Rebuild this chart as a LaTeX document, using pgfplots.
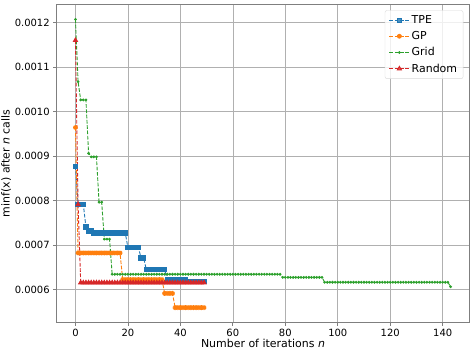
\documentclass[border=0pt]{standalone}
\usepackage{fontspec}
\setmainfont{DejaVu Sans}
\usepackage{pgfplots}
\pgfplotsset{compat=1.18}
\usetikzlibrary{plotmarks}
\definecolor{cTPE}{HTML}{1F77B4}
\definecolor{cGP}{HTML}{FF7F0E}
\definecolor{cGrid}{HTML}{2CA02C}
\definecolor{cRand}{HTML}{D62728}
\definecolor{gridc}{HTML}{B0B0B0}
\definecolor{framec}{HTML}{7F7F7F}
\begin{document}
\begin{tikzpicture}
\begin{axis}[
  name=ax, at={(0,0)}, anchor=south west,
  scale only axis, width=412.6bp, height=318bp,
  xmin=-7.15, xmax=150.15, ymin=0.000526, ymax=0.001241,
  xtick={0,20,...,140},
  ytick={0.0006,0.0007,0.0008,0.0009,0.0010,0.0011,0.0012},
  scaled y ticks=false,
  yticklabel style={/pgf/number format/.cd, fixed, fixed zerofill, precision=4, assume math mode=true},
  xticklabel style={/pgf/number format/assume math mode=true},
  ticklabel style={font=\fontsize{10}{12}\selectfont},
  label style={font=\fontsize{11}{13}\selectfont},
  xlabel={Number of iterations \textit{n}},
  ylabel={minf(x) after \textit{n} calls},
  xlabel style={yshift=5bp},
  ylabel style={yshift=-3bp},
  grid=major,
  major grid style={gridc, line width=0.6bp},
  axis line style={framec, line width=0.8bp},
  tick align=outside, major tick length=3.5bp,
  tick style={framec, line width=0.8bp},
  xtick pos=bottom, ytick pos=left,
  legend style={at={(1,1)}, anchor=north east, xshift=-6bp, yshift=-6bp,
    font=\fontsize{11}{13}\selectfont, draw=black!15, rounded corners=2bp,
    fill=white, fill opacity=0.8, text opacity=1, row sep=2.5bp,
    inner xsep=4bp, inner ysep=3bp},
  legend cell align=left,
  legend image code/.code={\draw[mark repeat=2,mark phase=2] plot coordinates {(0cm,0cm)(0.35cm,0cm)(0.7cm,0cm)};},
  every axis plot/.append style={line width=0.9bp, dash pattern=on 3.7bp off 1.6bp},
]
\addplot[cTPE, mark=square*, mark size=2.2bp, mark options={solid, fill=cTPE}] coordinates {
(0,0.000877)(1,0.000791)(2,0.000791)(3,0.000791)(4,0.000740)(5,0.000731)(6,0.000731)
(7,0.000727)(8,0.000727)(9,0.000727)(10,0.000727)(11,0.000727)(12,0.000727)(13,0.000727)
(14,0.000727)(15,0.000727)(16,0.000727)(17,0.000727)(18,0.000727)(19,0.000727)
(20,0.000694)(21,0.000694)(22,0.000694)(23,0.000694)(24,0.000694)
(25,0.000671)(26,0.000671)
(27,0.000645)(28,0.000645)(29,0.000645)(30,0.000645)(31,0.000645)(32,0.000645)(33,0.000645)(34,0.000645)
(35,0.000622)(36,0.000622)(37,0.000622)(38,0.000622)(39,0.000622)(40,0.000622)(41,0.000622)(42,0.000622)
(43,0.000618)(44,0.000618)(45,0.000618)(46,0.000618)(47,0.000618)(48,0.000618)(49,0.000618)
};
\addlegendentry{TPE}
\addplot[cGP, mark=10-pointed star, mark size=2.4bp, mark options={solid, fill=cGP}] coordinates {
(0,0.000964)(1,0.000682)(2,0.000682)(3,0.000682)(4,0.000682)(5,0.000682)(6,0.000682)(7,0.000682)
(8,0.000682)(9,0.000682)(10,0.000682)(11,0.000682)(12,0.000682)(13,0.000682)(14,0.000682)
(15,0.000682)(16,0.000682)(17,0.000682)
(18,0.000622)(19,0.000622)(20,0.000622)(21,0.000622)(22,0.000622)(23,0.000622)(24,0.000622)
(25,0.000622)(26,0.000622)(27,0.000622)(28,0.000622)(29,0.000622)(30,0.000622)(31,0.000622)
(32,0.000622)(33,0.000622)
(34,0.000591)(35,0.000591)(36,0.000591)(37,0.000591)
(38,0.000559)(39,0.000559)(40,0.000559)(41,0.000559)(42,0.000559)(43,0.000559)(44,0.000559)
(45,0.000559)(46,0.000559)(47,0.000559)(48,0.000559)(49,0.000559)
};
\addlegendentry{GP}
\addplot[cGrid, mark=*, mark size=0.9bp, mark options={solid, fill=cGrid}] coordinates {
(0,0.001207)(1,0.001067)(2,0.001026)(3,0.001026)(4,0.001026)(5,0.000906)(6,0.000898)(7,0.000898)
(8,0.000898)(9,0.000796)(10,0.000796)(11,0.000713)(12,0.000713)(13,0.000713)
(14,0.000634)(15,0.000634)(16,0.000634)(17,0.000634)(18,0.000634)(19,0.000634)(20,0.000634)
(21,0.000634)(22,0.000634)(23,0.000634)(24,0.000634)(25,0.000634)(26,0.000634)(27,0.000634)
(28,0.000634)(29,0.000634)(30,0.000634)(31,0.000634)(32,0.000634)(33,0.000634)(34,0.000634)
(35,0.000634)(36,0.000634)(37,0.000634)(38,0.000634)(39,0.000634)(40,0.000634)(41,0.000634)
(42,0.000634)(43,0.000634)(44,0.000634)(45,0.000634)(46,0.000634)(47,0.000634)(48,0.000634)
(49,0.000634)(50,0.000634)(51,0.000634)(52,0.000634)(53,0.000634)(54,0.000634)(55,0.000634)
(56,0.000634)(57,0.000634)(58,0.000634)(59,0.000634)(60,0.000634)(61,0.000634)(62,0.000634)
(63,0.000634)(64,0.000634)(65,0.000634)(66,0.000634)(67,0.000634)(68,0.000634)(69,0.000634)
(70,0.000634)(71,0.000634)(72,0.000634)(73,0.000634)(74,0.000634)(75,0.000634)(76,0.000634)
(77,0.000634)(78,0.000634)
(79,0.000627)(80,0.000627)(81,0.000627)(82,0.000627)(83,0.000627)(84,0.000627)(85,0.000627)
(86,0.000627)(87,0.000627)(88,0.000627)(89,0.000627)(90,0.000627)(91,0.000627)(92,0.000627)
(93,0.000627)(94,0.000627)
(95,0.000616)(96,0.000616)(97,0.000616)(98,0.000616)(99,0.000616)(100,0.000616)(101,0.000616)
(102,0.000616)(103,0.000616)(104,0.000616)(105,0.000616)(106,0.000616)(107,0.000616)(108,0.000616)
(109,0.000616)(110,0.000616)(111,0.000616)(112,0.000616)(113,0.000616)(114,0.000616)(115,0.000616)
(116,0.000616)(117,0.000616)(118,0.000616)(119,0.000616)(120,0.000616)(121,0.000616)(122,0.000616)
(123,0.000616)(124,0.000616)(125,0.000616)(126,0.000616)(127,0.000616)(128,0.000616)(129,0.000616)
(130,0.000616)(131,0.000616)(132,0.000616)(133,0.000616)(134,0.000616)(135,0.000616)(136,0.000616)
(137,0.000616)(138,0.000616)(139,0.000616)(140,0.000616)(141,0.000616)(142,0.000616)
(143,0.000606)
};
\addlegendentry{Grid}
\addplot[cRand, mark=triangle*, mark size=2.4bp, mark options={solid, fill=cRand}] coordinates {
(0,0.001160)(1,0.000791)
(2,0.000615)(3,0.000615)(4,0.000615)(5,0.000615)(6,0.000615)(7,0.000615)(8,0.000615)(9,0.000615)
(10,0.000615)(11,0.000615)(12,0.000615)(13,0.000615)(14,0.000615)(15,0.000615)(16,0.000615)
(17,0.000615)(18,0.000615)(19,0.000615)(20,0.000615)(21,0.000615)(22,0.000615)(23,0.000615)
(24,0.000615)(25,0.000615)(26,0.000615)(27,0.000615)(28,0.000615)(29,0.000615)(30,0.000615)
(31,0.000615)(32,0.000615)(33,0.000615)(34,0.000615)(35,0.000615)(36,0.000615)(37,0.000615)
(38,0.000615)(39,0.000615)(40,0.000615)(41,0.000615)(42,0.000615)(43,0.000615)(44,0.000615)
(45,0.000615)(46,0.000615)(47,0.000615)(48,0.000615)(49,0.000615)
};
\addlegendentry{Random}
\end{axis}
\pgfresetboundingbox
\path (-56.7bp,-28.7bp) rectangle (417.3bp,322.3bp);
\end{tikzpicture}
\end{document}
